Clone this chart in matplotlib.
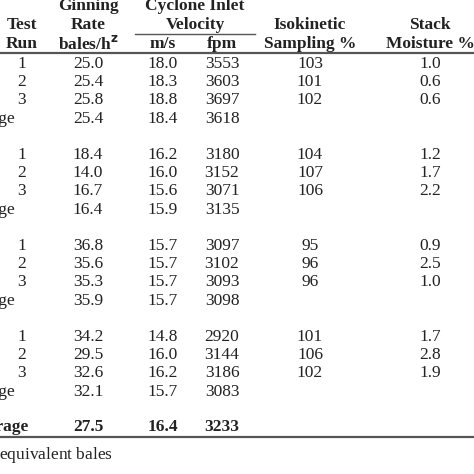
import matplotlib
matplotlib.use("Agg")
import matplotlib.pyplot as plt

runs = ["1", "2", "3"]
ginning = [[25.0, 25.4, 25.8], [18.4, 14.0, 16.7], [36.8, 35.6, 35.3], [34.2, 29.5, 32.6]]
ms = [[18.0, 18.3, 18.8], [16.2, 16.0, 15.6], [15.7, 15.7, 15.7], [14.8, 16.0, 16.2]]
fpm = [[3553, 3603, 3697], [3180, 3152, 3071], [3097, 3102, 3093], [2920, 3144, 3186]]
iso = [[103, 101, 102], [104, 107, 106], [95, 96, 96], [101, 106, 102]]
moist = [[1.0, 0.6, 0.6], [1.2, 1.7, 2.2], [0.9, 2.5, 1.0], [1.7, 2.8, 1.9]]
avg_gin = [25.4, 16.4, 35.9, 32.1]
avg_ms = [18.4, 15.9, 15.7, 15.7]
avg_fpm = [3618, 3135, 3098, 3083]
overall = [27.5, 16.4, 3233]

W = H = 474
fig = plt.figure(figsize=(4.74, 4.74), dpi=100)
fig.patch.set_facecolor("white")
FS = 12.5
fam = "Liberation Serif"

def T(x, y, s, ha="center", bold=False):
    fig.text(x / W, 1 - y / H, s, ha=ha, va="center", fontsize=FS, family=fam,
             fontweight="bold" if bold else "normal", color="#222222")

def L(x0, x1, y, lw):
    fig.add_artist(plt.Line2D([x0 / W, x1 / W], [1 - y / H, 1 - y / H], color="#555555", lw=lw))

cx = [22, 88, 163, 222, 310, 430]
# header
T(88, 6, "Ginning", bold=True)
T(195, 6, "Cyclone Inlet", bold=True)
T(22, 25, "Test", bold=True); T(88, 25, "Rate", bold=True); T(195, 25, "Velocity", bold=True)
T(310, 25, "Isokinetic", bold=True); T(430, 25, "Stack", bold=True)
T(22, 44, "Run", bold=True); T(88, 44, "bales/h$^\\mathbf{z}$", bold=True)
T(163, 44, "m/s", bold=True); T(222, 44, "fpm", bold=True)
T(310, 44, "Sampling %", bold=True); T(430, 44, "Moisture %", bold=True)
L(135, 255, 34, 1.0)
L(0, 474, 53, 1.6)

step = 18.2
y = 64
for g in range(4):
    for i in range(3):
        T(cx[0], y, runs[i])
        T(cx[1], y, f"{ginning[g][i]:.1f}")
        T(cx[2], y, f"{ms[g][i]:.1f}")
        T(cx[3], y, f"{fpm[g][i]}")
        T(cx[4], y, f"{iso[g][i]}")
        T(cx[5], y, f"{moist[g][i]:.1f}")
        y += step
    T(16, y, "Average", ha="right")
    T(cx[1], y, f"{avg_gin[g]:.1f}")
    T(cx[2], y, f"{avg_ms[g]:.1f}")
    T(cx[3], y, f"{avg_fpm[g]}")
    y += 2 * step
y -= step * 0.05
T(28, y, "Overall Average", ha="right", bold=True)
T(cx[1], y, f"{overall[0]:.1f}", bold=True)
T(cx[2], y, f"{overall[1]:.1f}", bold=True)
T(cx[3], y, f"{overall[2]}", bold=True)
L(0, 474, y + 10, 1.6)
T(113, y + 27, "$^z$Bales are 480-lb equivalent bales", ha="right")

fig.savefig("out.png", dpi=100, facecolor="white")
